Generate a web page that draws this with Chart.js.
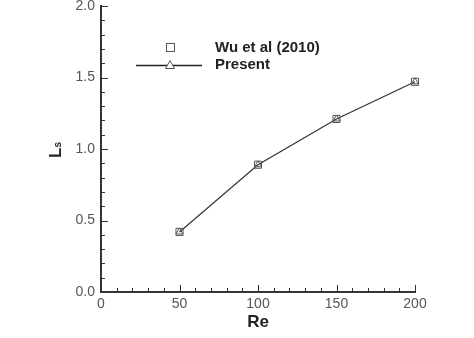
<!DOCTYPE html>
<html>
<head>
<meta charset="utf-8">
<script src="https://cdn.jsdelivr.net/npm/chart.js@4.4.0/dist/chart.umd.min.js"></script>
<style>
  html, body { margin: 0; padding: 0; background: #fff; }
  #wrap { width: 474px; height: 338px; }
</style>
</head>
<body>
<div id="wrap"><canvas id="lsChart" width="474" height="338"></canvas></div>
<script>
// recirculation length vs Reynolds number
const reynolds = [50, 100, 150, 200];
const wuLength = [0.42, 0.89, 1.21, 1.47];
const presentLength = [0.42, 0.89, 1.21, 1.47];
const xTicks = [0, 50, 100, 150, 200];
const yTicks = [0.0, 0.5, 1.0, 1.5, 2.0];

const FONT = "'Liberation Sans', Arial, sans-serif";

const toPoints = (xs, ys) => xs.map((x, i) => ({ x: x, y: ys[i] }));

// inward ticks, axis titles and the legend box
const decorations = {
  id: "decorations",
  afterDatasetsDraw(chart) {
    const { ctx, chartArea: area, scales } = chart;
    const xs = scales.x, ys = scales.y;
    ctx.save();
    ctx.strokeStyle = "#333";
    ctx.lineWidth = 1;
    ctx.beginPath();
    for (let v = 0; v <= 200; v += 10) {
      const px = Math.round(xs.getPixelForValue(v)) + 0.5;
      const len = v % 50 === 0 ? 7 : 4;
      ctx.moveTo(px, area.bottom);
      ctx.lineTo(px, area.bottom - len);
    }
    for (let k = 0; k <= 20; k++) {
      const py = Math.round(ys.getPixelForValue(k / 10)) + 0.5;
      const len = k % 5 === 0 ? 7 : 4;
      ctx.moveTo(area.left, py);
      ctx.lineTo(area.left + len, py);
    }
    ctx.stroke();

    // x title
    ctx.fillStyle = "#222";
    ctx.font = "bold 17px " + FONT;
    ctx.textAlign = "center";
    ctx.textBaseline = "middle";
    ctx.fillText("Re", (area.left + area.right) / 2, 322);

    // y title L with small s on the same baseline
    ctx.save();
    ctx.translate(61, 158);
    ctx.rotate(-Math.PI / 2);
    ctx.textAlign = "left";
    ctx.textBaseline = "alphabetic";
    ctx.font = "bold 17px " + FONT;
    const lw = ctx.measureText("L").width;
    ctx.fillText("L", 0, 0);
    ctx.font = "bold 10px " + FONT;
    ctx.fillText("s", lw, 0);
    ctx.restore();

    // legend
    ctx.strokeStyle = "#555";
    ctx.lineWidth = 1;
    ctx.strokeRect(166.5, 43.5, 8, 8);
    ctx.strokeStyle = "#222";
    ctx.lineWidth = 1.5;
    ctx.beginPath();
    ctx.moveTo(136, 65.5);
    ctx.lineTo(202, 65.5);
    ctx.stroke();
    ctx.strokeStyle = "#555";
    ctx.lineWidth = 1;
    ctx.beginPath();
    ctx.moveTo(170, 60.5);
    ctx.lineTo(174.5, 68.5);
    ctx.lineTo(165.5, 68.5);
    ctx.closePath();
    ctx.fillStyle = "#fff";
    ctx.fill();
    ctx.stroke();

    ctx.fillStyle = "#222";
    ctx.font = "bold 15px " + FONT;
    ctx.textAlign = "left";
    ctx.textBaseline = "middle";
    ctx.fillText("Wu et al (2010)", 215, 48);
    ctx.fillText("Present", 215, 65);
    ctx.restore();
  }
};

new Chart(document.getElementById("lsChart"), {
  type: "scatter",
  data: {
    datasets: [
      {
        label: "Wu et al (2010)",
        data: toPoints(reynolds, wuLength),
        pointStyle: "rect",
        pointRadius: 5,
        borderColor: "#555",
        backgroundColor: "rgba(255,255,255,0)",
        borderWidth: 1,
        showLine: false,
        clip: false
      },
      {
        label: "Present",
        data: toPoints(reynolds, presentLength),
        pointStyle: "triangle",
        pointRadius: 4,
        borderColor: "#333",
        pointBorderColor: "#555",
        backgroundColor: "rgba(255,255,255,0)",
        borderWidth: 1.2,
        pointBorderWidth: 1,
        showLine: true,
        clip: false
      }
    ]
  },
  options: {
    responsive: false,
    animation: false,
    layout: { padding: { left: 0, top: 5, right: 59, bottom: 0 } },
    plugins: {
      legend: { display: false },
      tooltip: { enabled: false }
    },
    scales: {
      x: {
        type: "linear",
        min: 0,
        max: 200,
        afterBuildTicks: (scale) => { scale.ticks = xTicks.map(v => ({ value: v })); },
        afterFit: (scale) => {
          scale.height = 46;
          scale.paddingLeft = 0;
          scale.paddingRight = 0;
        },
        grid: { display: false, drawTicks: false },
        border: { display: true, color: "#333", width: 2 },
        ticks: {
          padding: 4,
          color: "#555",
          font: { family: FONT, size: 14 },
          maxRotation: 0
        }
      },
      y: {
        type: "linear",
        min: 0,
        max: 2,
        afterBuildTicks: (scale) => { scale.ticks = yTicks.map(v => ({ value: v })); },
        afterFit: (scale) => {
          scale.width = 101;
          scale.paddingTop = 0;
          scale.paddingBottom = 0;
        },
        grid: { display: false, drawTicks: false },
        border: { display: true, color: "#333", width: 2 },
        ticks: {
          padding: 6,
          color: "#555",
          font: { family: FONT, size: 14 },
          callback: (v) => v.toFixed(1)
        }
      }
    }
  },
  plugins: [decorations]
});
</script>
</body>
</html>
